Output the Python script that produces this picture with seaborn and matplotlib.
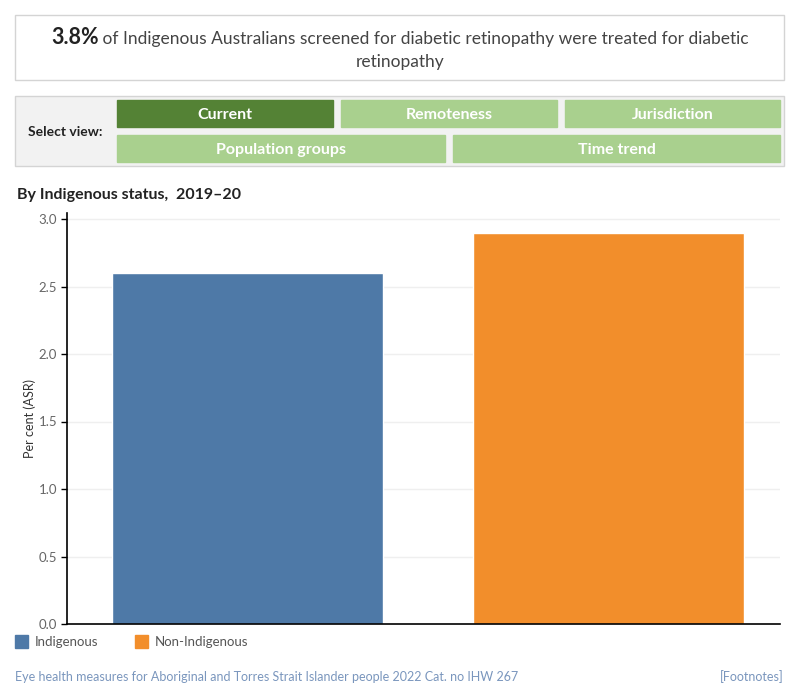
import matplotlib
matplotlib.use('Agg')
import matplotlib.pyplot as plt
import seaborn as sns
import pandas as pd
from matplotlib.patches import Rectangle

# data
groups = ['Indigenous', 'Non-Indigenous']
values = [2.6, 2.9]
colors = ['#4e79a7', '#f28e2b']
yticks = [0.0, 0.5, 1.0, 1.5, 2.0, 2.5, 3.0]
buttons_row1 = ['Current', 'Remoteness', 'Jurisdiction']
buttons_row2 = ['Population groups', 'Time trend']

sns.set_style('white')
plt.rcParams['font.family'] = ['Lato', 'DejaVu Sans']

df = pd.DataFrame({'group': groups, 'value': values})

W, H = 800, 700
fig = plt.figure(figsize=(8, 7), dpi=100)

def fx(px):
    return px / W

def fy(py):
    return 1 - py / H

def box(x0, y0, x1, y1, fc, ec=None):
    fig.patches.append(Rectangle((fx(x0), fy(y1)), fx(x1) - fx(x0), fy(y0) - fy(y1),
                                 transform=fig.transFigure, facecolor=fc,
                                 edgecolor=ec if ec else fc, linewidth=1))

# header box
box(15, 15, 784, 80, 'white', '#d4d4d4')
t1 = fig.text(0, fy(38), '3.8%', fontsize=15.5, fontweight='bold', color='#222222', va='center')
t2 = fig.text(0, fy(39), ' of Indigenous Australians screened for diabetic retinopathy were treated for diabetic',
              fontsize=12.5, color='#444444', va='center')
fig.canvas.draw()
r = fig.canvas.get_renderer()
w1 = t1.get_window_extent(r).width
w2 = t2.get_window_extent(r).width
start = (W - w1 - w2) / 2
t1.set_x(fx(start))
t2.set_x(fx(start + w1))
fig.text(0.5, fy(62), 'retinopathy', fontsize=12.5, color='#444444', ha='center', va='center')

# select view box
box(15, 96, 784, 166, '#f2f2f2', '#d4d4d4')
fig.text(fx(28), fy(132), 'Select view:', fontsize=10, fontweight='bold', color='#222222', va='center')
row1_x = [(117, 333), (341, 557), (565, 780)]
for (a, b), lab in zip(row1_x, buttons_row1):
    c = '#548235' if lab == 'Current' else '#a9d08e'
    box(a, 100, b, 127, c)
    fig.text(fx((a + b) / 2), fy(115), lab, fontsize=11.5, fontweight='bold', color='white',
             ha='center', va='center')
row2_x = [(117, 445), (453, 780)]
for (a, b), lab in zip(row2_x, buttons_row2):
    box(a, 135, b, 162, '#a9d08e')
    fig.text(fx((a + b) / 2), fy(150), lab, fontsize=11.5, fontweight='bold', color='white',
             ha='center', va='center')

fig.text(fx(17), fy(195), 'By Indigenous status,  2019\u201320', fontsize=11.5, fontweight='bold',
         color='#222222', va='center')

# chart
ax = fig.add_axes([fx(67), fy(624), fx(780) - fx(67), fy(213) - fy(624)])
sns.barplot(data=df, x='group', y='value', hue='group', palette=colors, width=0.75,
            saturation=1, legend=False, ax=ax)
ax.set_ylim(0, 3.0 / (624.5 - 219.5) * (624 - 213))
ax.set_xlim(-0.5, 1.475)
ax.set_yticks(yticks)
ax.set_yticklabels([f'{v:.1f}' for v in yticks], fontsize=9.5, color='#666666')
ax.set_xticks([])
ax.set_xlabel('')
ax.set_ylabel('Per cent (ASR)', fontsize=9, color='#333333')
ax.yaxis.set_label_coords((36 - 67) / 713, 0.5)
ax.yaxis.grid(True, color='#efefef', linewidth=1)
ax.set_axisbelow(True)
for s in ['top', 'right']:
    ax.spines[s].set_visible(False)
for s in ['left', 'bottom']:
    ax.spines[s].set_color('black')
    ax.spines[s].set_linewidth(1.2)
ax.tick_params(axis='y', length=4, width=1, color='black', left=True, pad=3)

# legend
legend_x = [15, 135]
for lx, lab, c in zip(legend_x, groups, colors):
    box(lx, 635, lx + 13, 648, c)
    fig.text(fx(lx + 20), fy(642), lab, fontsize=9.5, color='#555555', va='center')

# footer
fig.text(fx(15), fy(677), 'Eye health measures for Aboriginal and Torres Strait Islander people 2022 Cat. no IHW 267',
         fontsize=9, color='#7a96bd', va='center')
fig.text(fx(784), fy(677), '[Footnotes]', fontsize=9, color='#7a96bd', va='center', ha='right')

fig.savefig('out.png', dpi=100)
